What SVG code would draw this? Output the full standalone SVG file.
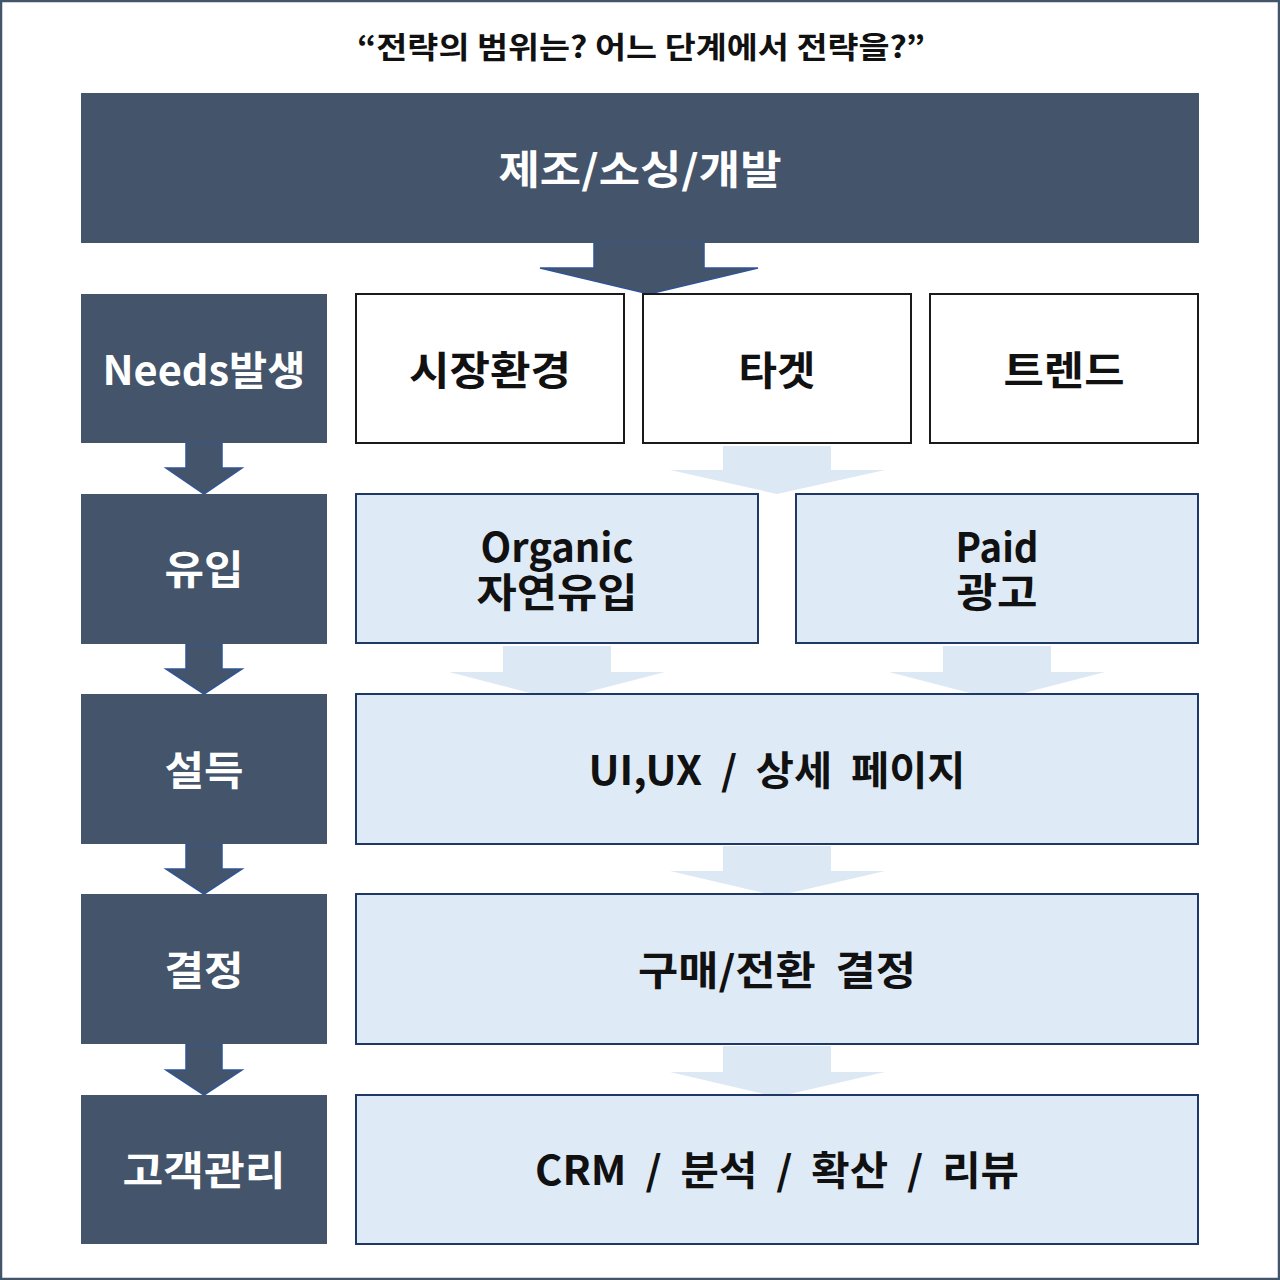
<svg xmlns="http://www.w3.org/2000/svg" width="1280" height="1280" viewBox="0 0 1280 1280">
<style>
text{font-family:"Noto Sans CJK KR","Noto Sans",sans-serif;font-weight:bold;text-anchor:middle;dominant-baseline:central}
.dk{fill:#44546a}
.lt{fill:#deeaf6;stroke:#1f3864;stroke-width:2}
.wb{fill:#fff;stroke:#1a1a1a;stroke-width:2}
.tw{fill:#fff;font-size:40px}
.tb{fill:#111;font-size:40px}
.la{fill:#dde8f5}
.da{fill:#44546a;stroke:#2f5597;stroke-width:1.5}
</style>
<rect x="1" y="1" width="1278" height="1278" fill="#fff" stroke="#44546a" stroke-width="2.5"/>
<text x="641" y="45" style="font-size:30px;fill:#111" textLength="568" lengthAdjust="spacingAndGlyphs">“전략의 범위는? 어느 단계에서 전략을?”</text>
<g id="connectors">
<polygon class="da" points="594,243 704,243 704,268 758,268 649,294 540,268 594,268"/>
<polygon class="da" points="186,443 222,443 222,468 242,468 204,494 166,468 186,468"/>
<polygon class="da" points="186,644 222,644 222,669 242,669 204,694 166,669 186,669"/>
<polygon class="da" points="186,844 222,844 222,869 242,869 204,894 166,869 186,869"/>
<polygon class="da" points="186,1044 222,1044 222,1070 242,1070 204,1095 166,1070 186,1070"/>
<polygon class="la" points="723,446 831,446 831,470 885,470 777,494 670,470 723,470"/>
<polygon class="la" points="503,646 611,646 611,672 665,672 557,700 449,672 503,672"/>
<polygon class="la" points="943,646 1051,646 1051,672 1105,672 997,700 889,672 943,672"/>
<polygon class="la" points="723,846 831,846 831,871 885,871 777,896 670,871 723,871"/>
<polygon class="la" points="723,1046 831,1046 831,1072 885,1072 777,1097 670,1072 723,1072"/>
</g>
<g id="top"><rect class="dk" x="81" y="93" width="1118" height="150"/><text class="tw" x="640" y="167" textLength="283" lengthAdjust="spacingAndGlyphs">제조/소싱/개발</text></g>
<g id="needs"><rect class="dk" x="81" y="294" width="246" height="149"/><text class="tw" x="204" y="368" textLength="203" lengthAdjust="spacingAndGlyphs">Needs발생</text></g>
<g id="inflow"><rect class="dk" x="81" y="494" width="246" height="150"/><text class="tw" x="204" y="567" textLength="79" lengthAdjust="spacingAndGlyphs">유입</text></g>
<g id="persuade"><rect class="dk" x="81" y="694" width="246" height="150"/><text class="tw" x="204" y="768" textLength="79" lengthAdjust="spacingAndGlyphs">설득</text></g>
<g id="decide"><rect class="dk" x="81" y="894" width="246" height="150"/><text class="tw" x="204" y="968" textLength="79" lengthAdjust="spacingAndGlyphs">결정</text></g>
<g id="crm-l"><rect class="dk" x="81" y="1095" width="246" height="149"/><text class="tw" x="204" y="1168" textLength="163" lengthAdjust="spacingAndGlyphs">고객관리</text></g>
<g id="market"><rect class="wb" x="356" y="294" width="268" height="149"/><text class="tb" x="490" y="368" textLength="162" lengthAdjust="spacingAndGlyphs">시장환경</text></g>
<g id="target"><rect class="wb" x="643" y="294" width="268" height="149"/><text class="tb" x="777" y="368" textLength="77" lengthAdjust="spacingAndGlyphs">타겟</text></g>
<g id="trend"><rect class="wb" x="930" y="294" width="268" height="149"/><text class="tb" x="1064" y="368" textLength="121" lengthAdjust="spacingAndGlyphs">트렌드</text></g>
<g id="organic"><rect class="lt" x="356" y="494" width="402" height="149"/><text class="tb" x="557" y="545" textLength="153" lengthAdjust="spacingAndGlyphs">Organic</text><text class="tb" x="557" y="590" textLength="161" lengthAdjust="spacingAndGlyphs">자연유입</text></g>
<g id="paid"><rect class="lt" x="796" y="494" width="402" height="149"/><text class="tb" x="997" y="545" textLength="83" lengthAdjust="spacingAndGlyphs">Paid</text><text class="tb" x="997" y="590" textLength="81" lengthAdjust="spacingAndGlyphs">광고</text></g>
<g id="uiux"><rect class="lt" x="356" y="694" width="842" height="150"/><text class="tb" x="777" y="768" xml:space="preserve" textLength="377" lengthAdjust="spacingAndGlyphs">UI,UX  /  상세  페이지</text></g>
<g id="purchase"><rect class="lt" x="356" y="894" width="842" height="150"/><text class="tb" x="777" y="968" xml:space="preserve" textLength="278" lengthAdjust="spacingAndGlyphs">구매/전환  결정</text></g>
<g id="crm"><rect class="lt" x="356" y="1095" width="842" height="149"/><text class="tb" x="777" y="1168" xml:space="preserve" textLength="484" lengthAdjust="spacingAndGlyphs">CRM  /  분석  /  확산  /  리뷰</text></g>
</svg>
